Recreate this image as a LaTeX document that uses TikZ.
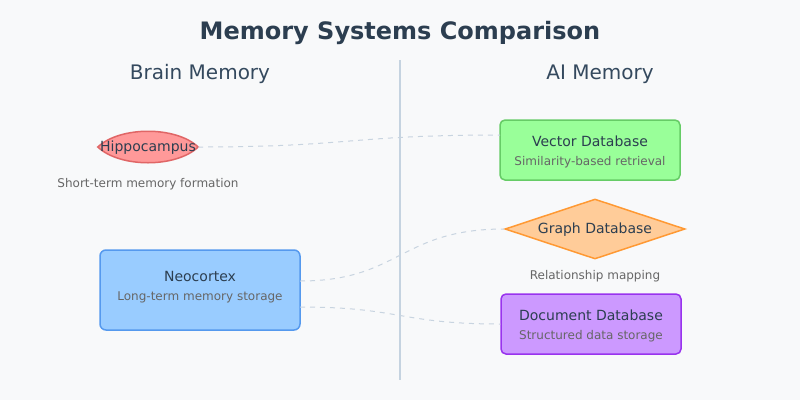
\documentclass[tikz,border=0pt]{standalone}
\usepackage{fontspec}
\setmainfont{DejaVu Sans}
\usetikzlibrary{shapes.geometric}
\definecolor{bg}{HTML}{F8F9FA}
\definecolor{dark}{HTML}{2C3E50}
\definecolor{sub}{HTML}{34495E}
\definecolor{grey}{HTML}{666666}
\definecolor{divider}{HTML}{C5D3E0}
\definecolor{conn}{HTML}{C8D4E0}
\definecolor{hipfill}{HTML}{FF9999}
\definecolor{hipdraw}{HTML}{E06666}
\definecolor{neofill}{HTML}{99CCFF}
\definecolor{neodraw}{HTML}{5599EE}
\definecolor{vecfill}{HTML}{99FF99}
\definecolor{vecdraw}{HTML}{66CC66}
\definecolor{grafill}{HTML}{FFCC99}
\definecolor{gradraw}{HTML}{FF9933}
\definecolor{docfill}{HTML}{CC99FF}
\definecolor{docdraw}{HTML}{9933EE}
\tikzset{
  box/.style={rectangle, rounded corners=6pt, line width=1.5pt, inner sep=0pt},
  maintext/.style={font=\fontsize{14}{16}\selectfont, text=dark},
  smalltext/.style={font=\fontsize{12}{14}\selectfont, text=grey},
  connector/.style={draw=conn, line width=1pt, dash pattern=on 5pt off 5pt},
}
\begin{document}
\begin{tikzpicture}[x=1pt,y=-1pt]
\fill[bg] (0,0) rectangle (800,400);
\useasboundingbox (0,0) rectangle (800,400);
% title and headings
\node[font=\bfseries\fontsize{24}{28}\selectfont, text=dark] (title) at (400,33) {Memory Systems Comparison};
\node[font=\fontsize{20}{24}\selectfont, text=sub] (brain) at (200,74) {Brain Memory};
\node[font=\fontsize{20}{24}\selectfont, text=sub] (ai) at (600,74) {AI Memory};
\coordinate (divtop) at (400,60);
\coordinate (divbot) at (400,380);
\draw[divider, line width=2pt] (divtop) -- (divbot);
% Hippocampus (lens)
\node[minimum width=100pt, minimum height=32pt, inner sep=0pt] (hip) at (148,147) {};
\filldraw[fill=hipfill, draw=hipdraw, line width=1.5pt]
  (hip.west) .. controls (120,126) and (176,126) .. (hip.east)
             .. controls (176,168) and (120,168) .. (hip.west) -- cycle;
\node[maintext] (hiptext) at (148,148) {Hippocampus};
\node[smalltext] (hiplab) at (148,184) {Short-term memory formation};
% Neocortex
\node[box, fill=neofill, draw=neodraw, minimum width=200pt, minimum height=80pt] (neo) at (200,290) {};
\node[maintext] (neot) at (200,276) {Neocortex};
\node[smalltext] (neos) at (200,297) {Long-term memory storage};
% Vector DB
\node[box, rounded corners=5pt, fill=vecfill, draw=vecdraw, minimum width=180pt, minimum height=60pt] (vec) at (590,150) {};
\node[maintext] (vect) at (590,141) {Vector Database};
\node[smalltext] (vecs) at (590,162) {Similarity-based retrieval};
% Graph DB
\node[diamond, aspect=3, fill=grafill, draw=gradraw, line width=1.5pt, minimum width=180pt, minimum height=60pt, inner sep=0pt] (gra) at (595,229) {};
\node[maintext] (grat) at (595,230) {Graph Database};
\node[smalltext] (gral) at (595,276) {Relationship mapping};
% Document DB
\node[box, rounded corners=5pt, fill=docfill, draw=docdraw, minimum width=180pt, minimum height=60pt] (doc) at (591,324) {};
\node[maintext] (doct) at (591,315) {Document Database};
\node[smalltext] (docs) at (591,336) {Structured data storage};
% connectors
\coordinate (neoA) at (300,281);
\coordinate (neoB) at (300,307);
\coordinate (vecA) at (500,135);
\draw[connector] (hip.east) .. controls (350,147) and (350,135) .. (vecA);
\draw[connector] (neoA) .. controls (400,281) and (400,229) .. (gra.west);
\draw[connector] (neoB) .. controls (400,307) and (400,324) .. (doc.west);
\end{tikzpicture}
\end{document}
